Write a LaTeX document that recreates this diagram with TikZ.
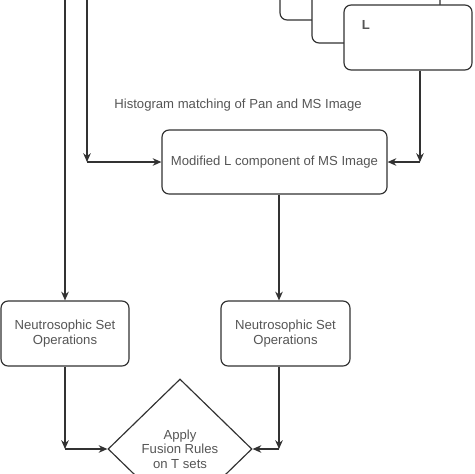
\documentclass[tikz,border=0pt]{standalone}
\usepackage{fontspec}
\setmainfont{Liberation Sans}
\usetikzlibrary{arrows.meta,shapes.geometric,positioning}
\definecolor{linegray}{RGB}{50,50,50}
\definecolor{textgray}{RGB}{85,85,85}

\begin{document}
\begin{tikzpicture}[x=0.03cm, y=-0.03cm,
    box/.style={draw=linegray, line width=1pt, rounded corners=6pt, fill=white, text=textgray, align=center,
                font=\fontsize{11.2}{12.8}\selectfont, inner sep=0pt},
    flow/.style={draw=linegray, line width=1pt, -{Stealth[length=7.5pt, width=6.5pt]}}]
            \useasboundingbox (0,0) rectangle (474,474);
            \clip (0,0) rectangle (474,474);

            % Stacked component boxes
            \node[box, minimum width=3.84cm, minimum height=1.95cm] (compA) at (344,-12.5) {};
            \node[box, minimum width=3.84cm, minimum height=1.95cm] (compB) at (376,10.5) {};
            \node[box, minimum width=3.84cm, minimum height=1.95cm] (compC) at (408,37.5) {};
            \node[text=textgray, font=\fontsize{11.2}{12.8}\selectfont\bfseries] (lname) at (366,25) {L};

            % Sources from above
            \coordinate (srcA) at (65,-20);
            \coordinate (srcB) at (87,-20);

            % Label
            \node[text=textgray, font=\fontsize{11.2}{12.8}\selectfont] (histo) at (238,105) {Histogram matching of Pan and MS Image};

            % Modified L
            \node[box, minimum width=6.75cm, minimum height=1.92cm] (modl) at (274.5,162) {Modified L component of MS Image};

            % Neutrosophic boxes
            \node[box, minimum width=3.84cm, minimum height=1.95cm] (neutA) at (65,333.5) {Neutrosophic Set\\Operations};
            \node[box, minimum width=3.87cm, minimum height=1.95cm] (neutB) at (285.5,333.5) {Neutrosophic Set\\Operations};

            % Fusion
            \node[draw=linegray, line width=1pt, diamond, fill=white, inner sep=0pt, minimum width=4.32cm, minimum height=4.2cm,
                  text=textgray, align=center, font=\fontsize{11.2}{12.3}\selectfont] (fuse) at (180,449) {Apply\\Fusion Rules\\on T sets};

            % Corners
            \coordinate (cl) at (87,162);
            \coordinate (cr) at (420,162);
            \coordinate (cm) at (279,449);
            \coordinate (cf) at (65,449);

            % Arrows
            \draw[flow] (srcA) -- (neutA.north);
            \draw[flow] (srcB) -- (cl);
            \draw[flow] (cl) -- (modl.west);
            \draw[flow] (compC.south -| cr) -- (cr);
            \draw[flow] (cr) -- (modl.east);
            \draw[flow] (modl.south -| cm) -- (neutB.north -| cm);
            \draw[flow] (neutB.south -| cm) -- (cm);
            \draw[flow] (cm) -- (fuse.east);
            \draw[flow] (neutA.south) -- (cf);
            \draw[flow] (cf) -- (fuse.west);
        \end{tikzpicture}
\end{document}
